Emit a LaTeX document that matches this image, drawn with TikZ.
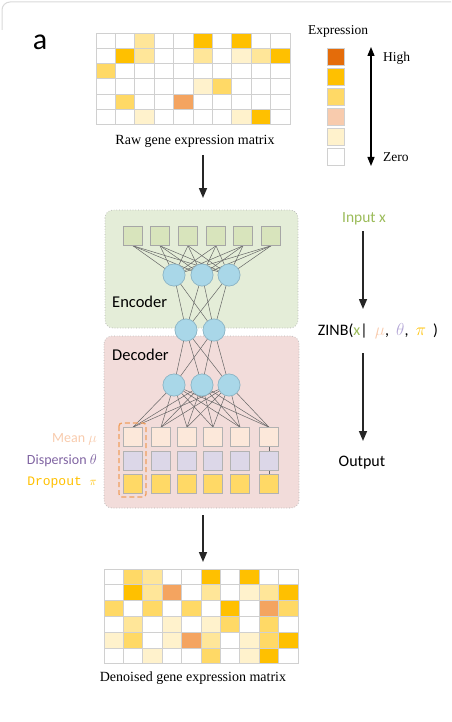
\documentclass[tikz,border=0pt]{standalone}
\usepackage{fontspec}
\setmainfont{Liberation Serif}
\newfontfamily\calfont{Carlito}
\newfontfamily\monofont{Liberation Mono}
\usetikzlibrary{arrows.meta}
\definecolor{cW}{HTML}{FFFFFF}
\definecolor{cC}{HTML}{FFF2CC}
\definecolor{cL}{HTML}{FFE699}
\definecolor{cY}{HTML}{FFD966}
\definecolor{cG}{HTML}{FFC000}
\definecolor{cP}{HTML}{F4A460}
\definecolor{cO}{HTML}{E46C0A}
\definecolor{cR}{HTML}{F8CBAD}
\definecolor{gridgray}{HTML}{D0D0D0}
\definecolor{encfill}{HTML}{E4EDD8}
\definecolor{decfill}{HTML}{F2DCDA}
\definecolor{insq}{HTML}{D8E4BC}
\definecolor{circfill}{HTML}{A9D7E8}
\definecolor{circdraw}{HTML}{8FB6C6}
\definecolor{meanfill}{HTML}{FCE8DA}
\definecolor{dispfill}{HTML}{DCD7E8}
\definecolor{dropfill}{HTML}{FFD966}
\definecolor{meancol}{HTML}{F8CBAD}
\definecolor{dispcol}{HTML}{8064A2}
\definecolor{thetacol}{HTML}{B4A7D6}
\definecolor{dropcol}{HTML}{FFC000}
\definecolor{ingreen}{HTML}{9BBB59}
\definecolor{dashor}{HTML}{F0A060}
\tikzset{
  cell/.style={draw=gridgray, line width=0.8pt, inner sep=0pt, outer sep=0pt},
  topcell/.style={cell, minimum width=19.4pt, minimum height=15.3pt},
  botcell/.style={cell, minimum width=19.4pt, minimum height=15.8pt},
  legsq/.style={draw=gridgray, line width=0.8pt, minimum size=17pt, inner sep=0pt},
  insquare/.style={draw=gray!70, fill=insq, line width=0.6pt, minimum size=19pt, inner sep=0pt},
  outsq/.style={draw=gray!60, line width=0.6pt, minimum size=19pt, inner sep=0pt},
  neuron/.style={circle, draw=circdraw, fill=circfill, line width=0.6pt, minimum size=22pt, inner sep=0pt},
  conn/.style={draw=gray!80!black, line width=0.5pt},
  bigarrow/.style={draw=black!85, line width=1.5pt, -{Triangle[width=8pt,length=10pt]}},
  serlabel/.style={font=\fontsize{14}{16}\selectfont, inner sep=0pt},
  callabel/.style={font=\calfont\fontsize{15.5}{18}\selectfont, inner sep=0pt},
  panelbox/.style={draw=gray!60, dotted, line width=0.7pt, rounded corners=8pt},
}
\begin{document}
\begin{tikzpicture}[x=1pt,y=-1pt]
\useasboundingbox (0,0) rectangle (451,722);
% faint frame
\draw[gray!30, line width=1pt, rounded corners=8pt] (2,30) -- (2,2) -- (451,2);
% panel label
\node[font=\calfont\fontsize{30}{32}\selectfont, inner sep=0pt] (lbla) at (40,42) {a};
% top matrix
\foreach \row [count=\r] in {{W,W,L,W,W,G,W,G,W,W},{W,G,L,W,W,L,W,C,L,G},{Y,W,W,W,W,W,W,W,W,W},{W,W,W,W,W,C,Y,W,W,W},{W,Y,W,W,P,W,W,W,W,W},{W,W,C,W,W,W,W,C,G,W}}{
  \foreach \c [count=\k] in \row {
    \node[topcell, fill=c\c] (t-\r-\k) at ({96+19.4*(\k-0.5)},{33+15.3*(\r-0.5)}) {};
  }
}
\node[serlabel] (rawlbl) at (195,141) {Raw gene expression matrix};
% legend
\node[serlabel, font=\fontsize{13.5}{16}\selectfont] (explbl) at (338,31) {Expression};
\foreach \c [count=\k] in {O,G,Y,R,C,W} {
  \node[legsq, fill=c\c] (leg-\k) at (335.5,{57+20*(\k-1)}) {};
}
\coordinate (legtop) at (371,47);
\coordinate (legbot) at (371,166);
\draw[black, line width=1.3pt, {Triangle[width=7pt,length=9pt]}-{Triangle[width=7pt,length=9pt]}] (legtop) -- (legbot);
\node[serlabel, font=\fontsize{13.5}{16}\selectfont, anchor=west] (high) at (383,58) {High};
\node[serlabel, font=\fontsize{13.5}{16}\selectfont, anchor=west] (zero) at (383,157) {Zero};
% arrow top
\coordinate (a1s) at (203,155);
\coordinate (a1e) at (203,198);
\draw[bigarrow] (a1s) -- (a1e);
% panels
\draw[panelbox, fill=encfill] (105,210) rectangle (298,328);
\draw[panelbox, fill=decfill] (104,336) rectangle (299,508);
\node[callabel, font=\calfont\fontsize{16.5}{18}\selectfont, anchor=west] (enclbl) at (112,302) {Encoder};
\node[callabel, font=\calfont\fontsize{16.5}{18}\selectfont, anchor=west] (declbl) at (112,355) {Decoder};
% input squares
\foreach \x [count=\k] in {133,160,188,216,243,271} {
  \node[insquare] (in-\k) at (\x,236) {};
}
% neurons
\foreach \x [count=\k] in {174,202,229} {
  \node[neuron] (e-\k) at (\x,275) {};
  \node[neuron] (d-\k) at (\x,385) {};
}
\foreach \x [count=\k] in {186,214} {
  \node[neuron] (b-\k) at (\x,330) {};
}
% output squares
\foreach \x [count=\k] in {133,161,187,213,240,269} {
  \node[outsq, fill=meanfill] (m-\k) at (\x,437) {};
  \node[outsq, fill=dispfill] (s-\k) at (\x,461) {};
  \node[outsq, fill=dropfill] (p-\k) at (\x,484) {};
}
% connections
\foreach \i in {1,...,6} { \foreach \j in {1,2,3} { \draw[conn] (in-\i.south) -- (e-\j); } }
\foreach \i in {1,2,3} { \foreach \j in {1,2} { \draw[conn] (e-\i) -- (b-\j); } }
\foreach \i in {1,2} { \foreach \j in {1,2,3} { \draw[conn] (b-\i) -- (d-\j); } }
\foreach \i in {1,2,3} { \foreach \j in {1,...,6} { \draw[conn] (d-\i) -- (m-\j.north); } }
\draw[conn] (m-6.south) -- (s-6.north);
\draw[conn] (s-6.south) -- (p-6.north);
% redraw on top of connectors
\foreach \k in {1,2,3} { \node[neuron] at (e-\k) {}; \node[neuron] at (d-\k) {}; }
\foreach \k in {1,2} { \node[neuron] at (b-\k) {}; }
\foreach \k in {1,...,6} { \node[insquare] at (in-\k) {}; \node[outsq, fill=meanfill] at (m-\k) {}; }
% dashed highlight
\draw[dashor, line width=1.3pt, rounded corners=3pt, dash pattern=on 5pt off 3pt] (119,423) rectangle (146,497);
% left labels
\node[callabel, font=\calfont\fontsize{14}{16}\selectfont, text=meancol, anchor=east] (meanlbl) at (97,439) {Mean $\mu$};
\node[callabel, font=\calfont\fontsize{14}{16}\selectfont, text=dispcol, anchor=east] (displbl) at (97,461) {Dispersion $\theta$};
\node[callabel, font=\monofont\fontsize{13}{15}\selectfont, text=dropcol, anchor=east] (droplbl) at (97,483) {Dropout $\pi$};
% right side
\node[callabel] (inputx) at (364,219) {\textcolor{ingreen}{Input x}};
\node[callabel, font=\calfont\fontsize{16}{18}\selectfont] (zinb) at (378,331) {ZINB(\textcolor{ingreen}{x}|\hspace{0.45em}\textcolor{meancol}{$\mu$},\hspace{0.45em}\textcolor{thetacol}{$\theta$},\hspace{0.45em}\textcolor{dropcol}{$\pi$}\hspace{0.45em})};
\node[callabel, font=\calfont\fontsize{16}{18}\selectfont] (output) at (362,463) {Output};
\coordinate (r1s) at (363,231);
\coordinate (r1e) at (363,309);
\coordinate (r2s) at (363,353);
\coordinate (r2e) at (363,441);
\draw[bigarrow] (r1s) -- (r1e);
\draw[bigarrow] (r2s) -- (r2e);
% bottom arrow
\coordinate (a2s) at (203,515);
\coordinate (a2e) at (203,562);
\draw[bigarrow] (a2s) -- (a2e);
% bottom matrix
\foreach \row [count=\r] in {{W,Y,L,W,W,G,W,G,W,W},{W,G,L,P,W,L,W,C,L,G},{Y,W,Y,W,Y,W,G,W,P,Y},{W,L,W,C,W,C,Y,W,Y,W},{C,Y,W,C,P,L,W,C,Y,G},{W,W,C,W,W,Y,W,C,G,W}}{
  \foreach \c [count=\k] in \row {
    \node[botcell, fill=c\c] (bm-\r-\k) at ({104+19.4*(\k-0.5)},{569+15.8*(\r-0.5)}) {};
  }
}
\node[serlabel] (denlbl) at (193,678) {Denoised gene expression matrix};
\end{tikzpicture}
\end{document}
